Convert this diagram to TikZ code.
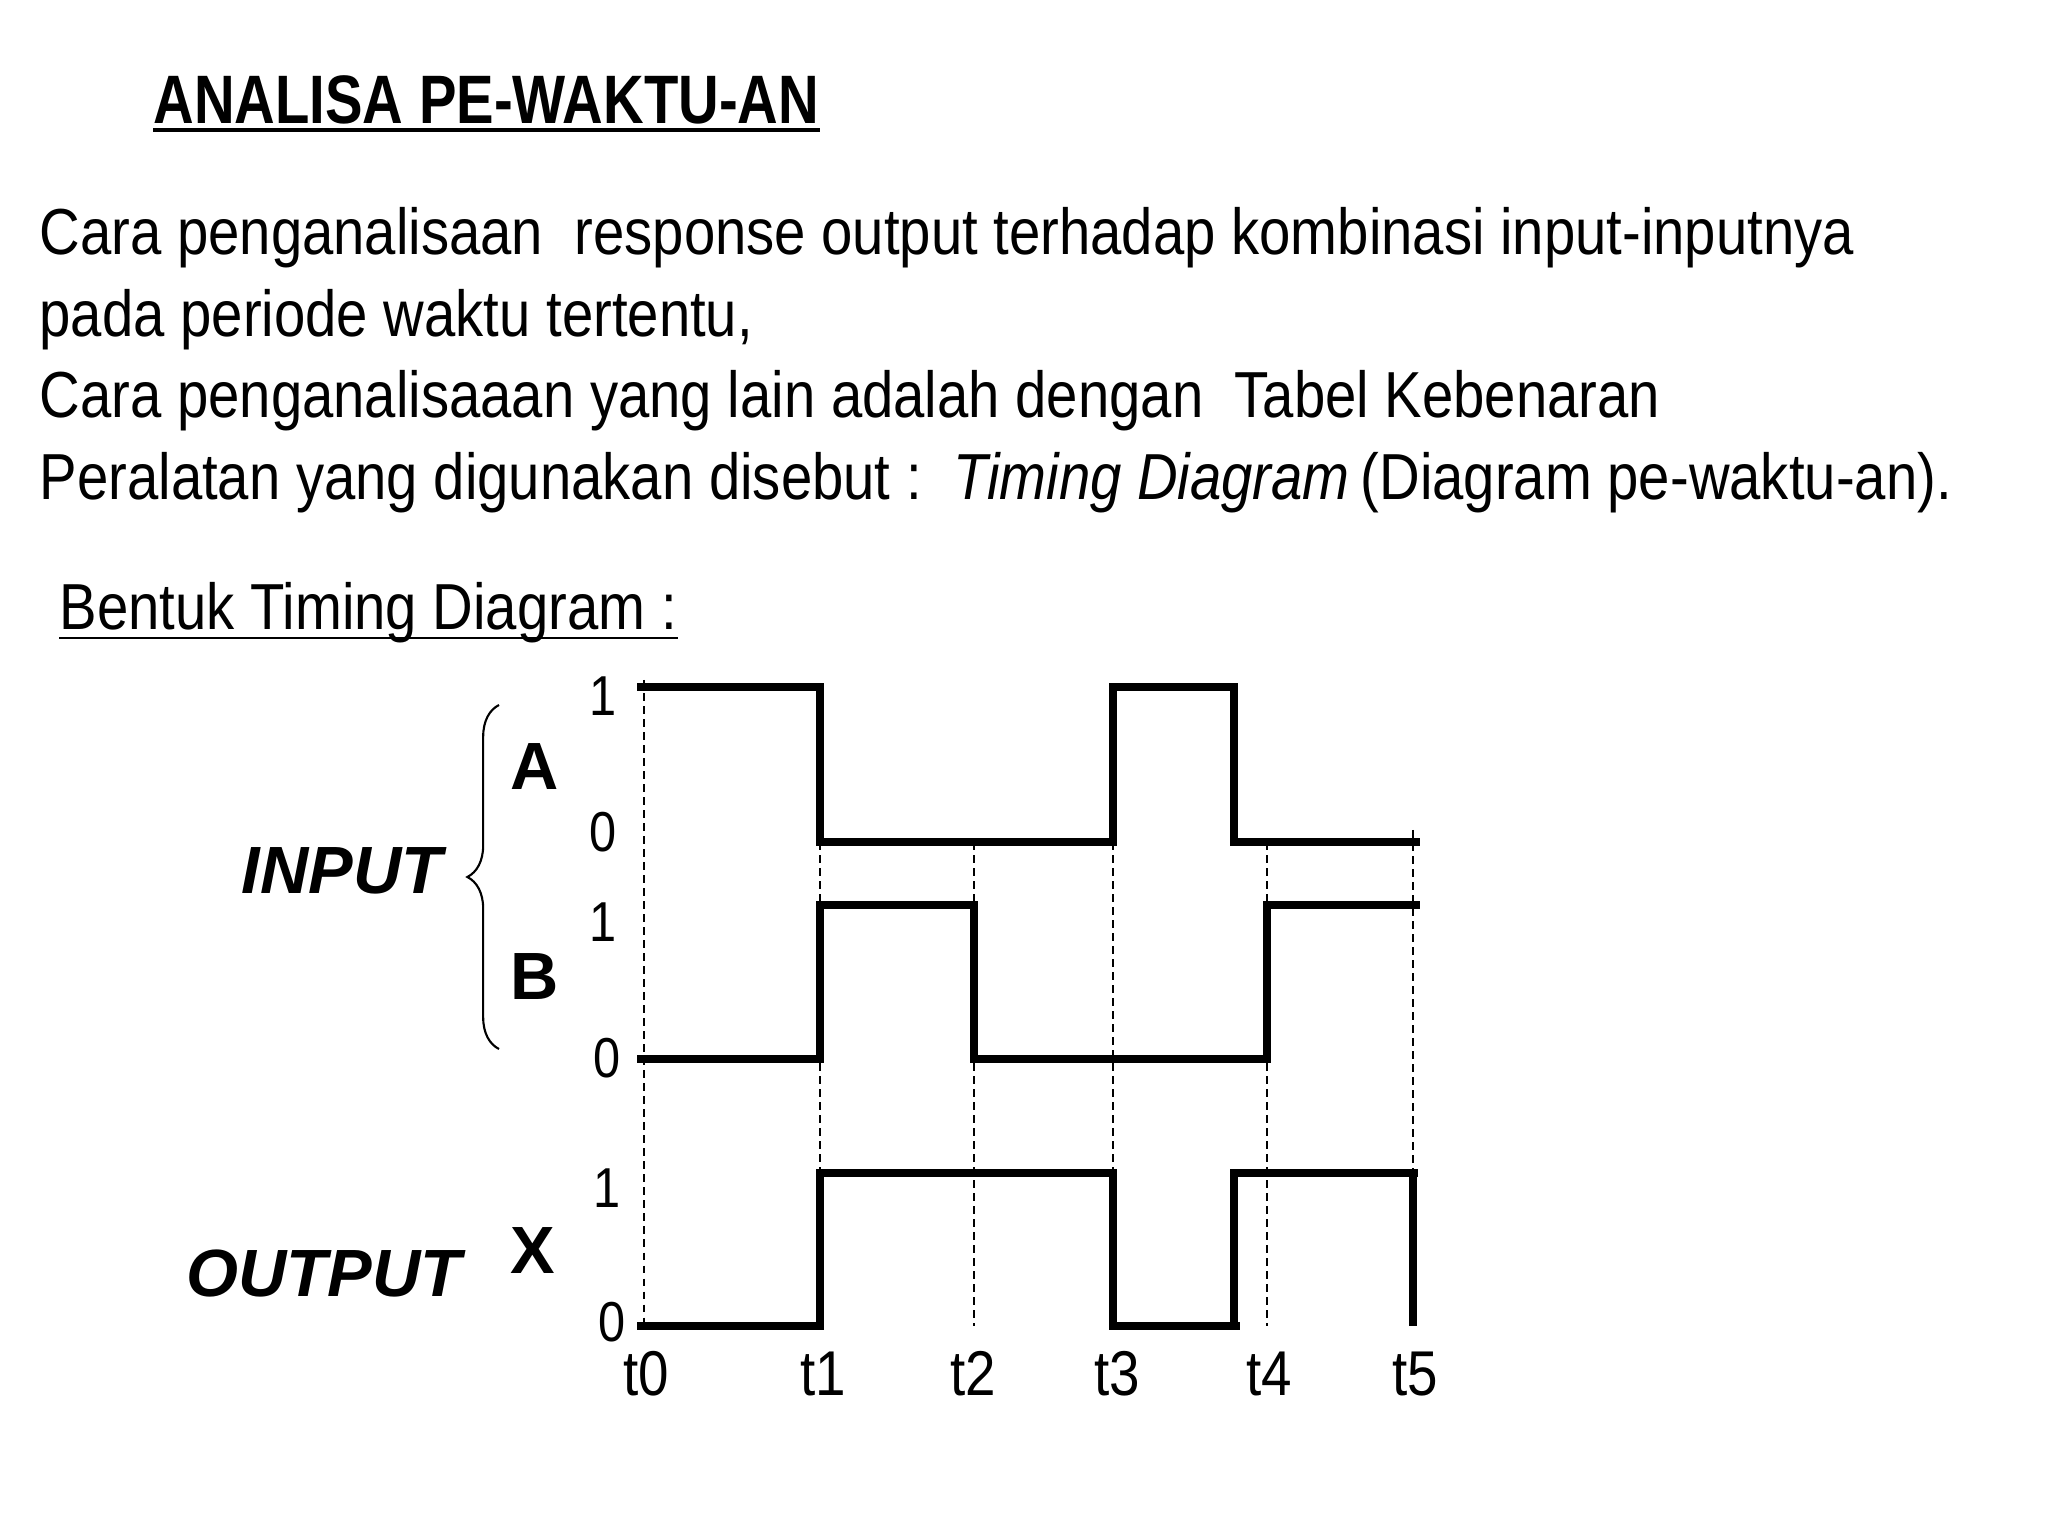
\documentclass[tikz,border=0pt]{standalone}
\usepackage{fontspec}
\setmainfont[FakeStretch=0.865]{Liberation Sans}
\newfontfamily\titlefont[FakeStretch=0.82]{Liberation Sans}
\newfontfamily\widesans{Liberation Sans}
\usetikzlibrary{decorations.pathreplacing}
\begin{document}
\begin{tikzpicture}[x=0.01cm,y=-0.01cm,
  txt/.style={anchor=base west, inner sep=0, font=\fontsize{18.5}{22}\selectfont},
  sig/.style={line width=2.3pt, line join=miter},
  gridl/.style={line width=0.5pt, dash pattern=on 2.2pt off 1.5pt},
  lvl/.style={inner sep=0, font=\fontsize{16}{18}\selectfont},
  tlab/.style={inner sep=0, font=\fontsize{18}{20}\selectfont},
  sname/.style={inner sep=0, font=\widesans\bfseries\fontsize{19}{22}\selectfont},
  grp/.style={inner sep=0, font=\widesans\bfseries\itshape\fontsize{19}{22}\selectfont}]
\useasboundingbox[fill=white] (0,0) rectangle (2048,1534);

% texts
\node[txt, font=\titlefont\bfseries\fontsize{19.5}{22}\selectfont] (title) at (153,124) {ANALISA PE-WAKTU-AN};
\draw[line width=1.1pt] ([yshift=-1.8pt]title.base west) -- ([yshift=-1.8pt]title.base east);
\node[txt] (l1) at (39,255) {Cara penganalisaan\ \ response output terhadap kombinasi input-inputnya};
\node[txt] (l2) at (39,337) {pada periode waktu tertentu,};
\node[txt] (l3) at (39,418) {Cara penganalisaaan yang lain adalah dengan\ \ Tabel Kebenaran};
\node[txt] (l4) at (39,500) {Peralatan yang digunakan disebut :\ \ \textit{Timing Diagram}\,(Diagram pe-waktu-an).};
\node[txt] (bentuk) at (59,630) {Bentuk Timing Diagram :};
\draw[line width=0.7pt] ([yshift=-2.2pt]bentuk.base west) -- ([yshift=-2.2pt]bentuk.base east);

% time coordinates
\coordinate (t0) at (644,0);
\coordinate (t1) at (820,0);
\coordinate (t2) at (974,0);
\coordinate (t3) at (1113,0);
\coordinate (t4) at (1267,0);
\coordinate (t5) at (1413,0);

% dashed guide lines
\draw[gridl] (644,680) -- (644,1326);
\draw[gridl] (820,842) -- (820,1173);
\draw[gridl] (974,842) -- (974,1326);
\draw[gridl] (1113,842) -- (1113,1173);
\draw[gridl] (1267,842) -- (1267,1326);
\draw[gridl] (1413,830) -- (1413,1173);

% waveforms
\draw[sig] (637,687) -- (820,687) -- (820,842) -- (1113,842) -- (1113,687) -- (1234,687) -- (1234,842) -- (1420,842);
\draw[sig] (637,1059) -- (820,1059) -- (820,905) -- (974,905) -- (974,1059) -- (1267,1059) -- (1267,905) -- (1420,905);
\draw[sig] (637,1326) -- (820,1326) -- (820,1173) -- (1113,1173) -- (1113,1326) -- (1240,1326);
\draw[sig] (1234,1326) -- (1234,1173) -- (1418,1173);
\draw[sig] (1413,1173) -- (1413,1326);

% level labels
\node[lvl] (a1) at (603,696) {1};
\node[lvl] (a0) at (603,832) {0};
\node[lvl] (b1) at (603,922) {1};
\node[lvl] (b0) at (607,1058) {0};
\node[lvl] (x1) at (607,1188) {1};
\node[lvl] (x0) at (612,1322) {0};

% time labels
\node[tlab] (lt0) at (646,1374) {t0};
\node[tlab] (lt1) at (823,1374) {t1};
\node[tlab] (lt2) at (973,1374) {t2};
\node[tlab] (lt3) at (1117,1374) {t3};
\node[tlab] (lt4) at (1269,1374) {t4};
\node[tlab] (lt5) at (1415,1374) {t5};

% signal names
\node[sname] (A) at (535,767) {A};
\node[sname] (B) at (535,977) {B};
\node[sname] (X) at (533,1251) {X};
\node[grp] (input) at (342,871) {INPUT};
\node[grp] (output) at (324,1273) {OUTPUT};

% brace
\draw[line width=0.6pt, decorate, decoration={brace, amplitude=9pt}] (499,1049) -- (499,705);
\end{tikzpicture}
\end{document}
